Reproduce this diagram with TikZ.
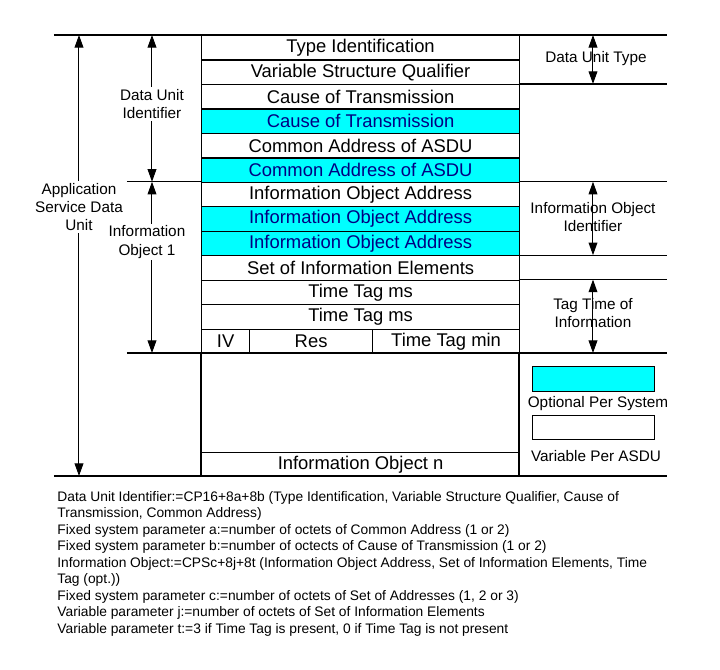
\documentclass[tikz,border=0pt]{standalone}
\usepackage{fontspec}
\setmainfont{Liberation Sans}
\usetikzlibrary{arrows.meta}
\definecolor{optcyan}{RGB}{0,255,255}
\definecolor{opttext}{RGB}{0,0,130}

\begin{document}
\begin{tikzpicture}[x=0.5pt,y=-0.5pt,
	field/.style={draw,line width=0.6pt,minimum width=159pt,minimum height=12.23pt,inner sep=0pt,anchor=north west,font=\fontsize{9.2}{11}\selectfont},
	optfield/.style={field,fill=optcyan,text=opttext},
	sidelabel/.style={align=center,inner sep=1pt,font=\fontsize{7.65}{9.2}\selectfont},
	rule/.style={line width=0.6pt},
	dimarrow/.style={{Triangle[length=6.3pt,width=4.4pt]}-{Triangle[length=6.3pt,width=4.4pt]},line width=0.5pt}]
	
	\useasboundingbox (0,0) rectangle (720,670);
	
	% Draw the fields of the ASDU
	\node[field] (TI) at (201,35) {Type Identification};
	\node[field] (VSQ) at (201,59.46) {Variable Structure Qualifier};
	\node[field] (COT) at (201,83.92) {Cause of Transmission};
	\node[optfield] (COTopt) at (201,108.38) {Cause of Transmission};
	\node[field] (CA) at (201,132.84) {Common Address of ASDU};
	\node[optfield] (CAopt) at (201,157.3) {Common Address of ASDU};
	\node[field] (IOA) at (201,181.76) {Information Object Address};
	\node[optfield] (IOAopt) at (201,206.22) {Information Object Address};
	\node[optfield] (IOAoptb) at (201,230.68) {Information Object Address};
	\node[field] (SIE) at (201,255.14) {Set of Information Elements};
	\node[field] (TTms) at (201,279.6) {Time Tag ms};
	\node[field] (TTmsb) at (201,304.06) {Time Tag ms};
	\node[field,minimum width=24pt] (IV) at (201,328.52) {IV};
	\node[field,minimum width=61.5pt] (Res) at (249,328.52) {Res};
	\node[field,minimum width=73.5pt] (TTmin) at (372,328.52) {Time Tag min};
	\node[field] (ION) at (201,451.5) {Information Object n};
	
	% Draw the frame around the fields
	\draw[rule] (54,35) -- (667,35);
	\draw[rule] (519,83.92) -- (667,83.92);
	\draw[rule] (127,181.76) -- (201,181.76);
	\draw[rule] (519,181.76) -- (667,181.76);
	\draw[rule] (519,255.14) -- (667,255.14);
	\draw[rule] (519,279.6) -- (667,279.6);
	\draw[rule] (127,353) -- (667,353);
	\draw[rule] (201,353) -- (201,476);
	\draw[rule] (519,353) -- (519,476);
	\draw[rule] (54,476) -- (667,476);
	
	% Draw the dimension arrows, left side
	\coordinate (asduTop) at (79,35);
	\coordinate (asduBot) at (79,476);
	\coordinate (duiTop) at (152,35);
	\coordinate (duiBot) at (152,181.76);
	\coordinate (ioBot) at (152,353);
	\draw[dimarrow] (asduTop) -- (asduBot);
	\draw[dimarrow] (duiTop) -- (duiBot);
	\draw[dimarrow] (duiBot) -- (ioBot);
	\node[sidelabel,fill=white] (ASDU) at (79,207) {Application\\Service Data\\Unit};
	\node[sidelabel,fill=white] (DUI) at (152,104) {Data Unit\\Identifier};
	\node[sidelabel,fill=white] (IO) at (147,242) {Information\\Object 1};
	
	% Draw the dimension arrows, right side
	\node[sidelabel] (DUT) at (596,59) {Data Unit Type};
	\node[sidelabel] (IOI) at (593,217) {Information Object\\Identifier};
	\node[sidelabel] (TTI) at (593,313) {Tag Time of\\Information};
	\coordinate (dutTop) at (593,35);
	\coordinate (dutBot) at (593,83.92);
	\coordinate (ioiTop) at (593,181.76);
	\coordinate (ioiBot) at (593,255.14);
	\coordinate (ttiTop) at (593,279.6);
	\coordinate (ttiBot) at (593,353);
	\draw[dimarrow] (dutTop) -- (dutBot);
	\draw[dimarrow] (ioiTop) -- (ioiBot);
	\draw[dimarrow] (ttiTop) -- (ttiBot);
	
	% Draw the legend
	\node[draw,fill=optcyan,line width=0.6pt,minimum width=61pt,minimum height=12.5pt,anchor=north west] (optkey) at (532,366) {};
	\node[sidelabel] (optlab) at (598,404) {Optional Per System};
	\node[draw,line width=0.6pt,minimum width=61pt,minimum height=12pt,anchor=north west] (varkey) at (532,415) {};
	\node[sidelabel] (varlab) at (596,456) {Variable Per ASDU};
	
	% Draw the notes under the picture
	\node[anchor=north west,align=left,inner sep=0pt,font=\fontsize{6.9}{8.25}\selectfont] (notes) at (57,491) {Data Unit Identifier:=CP16+8a+8b (Type Identification, Variable Structure Qualifier, Cause of\\
		Transmission, Common Address)\\
		Fixed system parameter a:=number of octets of Common Address (1 or 2)\\
		Fixed system parameter b:=number of octects of Cause of Transmission (1 or 2)\\
		Information Object:=CPSc+8j+8t (Information Object Address, Set of Information Elements, Time\\
		Tag (opt.))\\
		Fixed system parameter c:=number of octets of Set of Addresses (1, 2 or 3)\\
		Variable parameter j:=number of octets of Set of Information Elements\\
		Variable parameter t:=3 if Time Tag is present, 0 if Time Tag is not present};
	
\end{tikzpicture}
\end{document}
